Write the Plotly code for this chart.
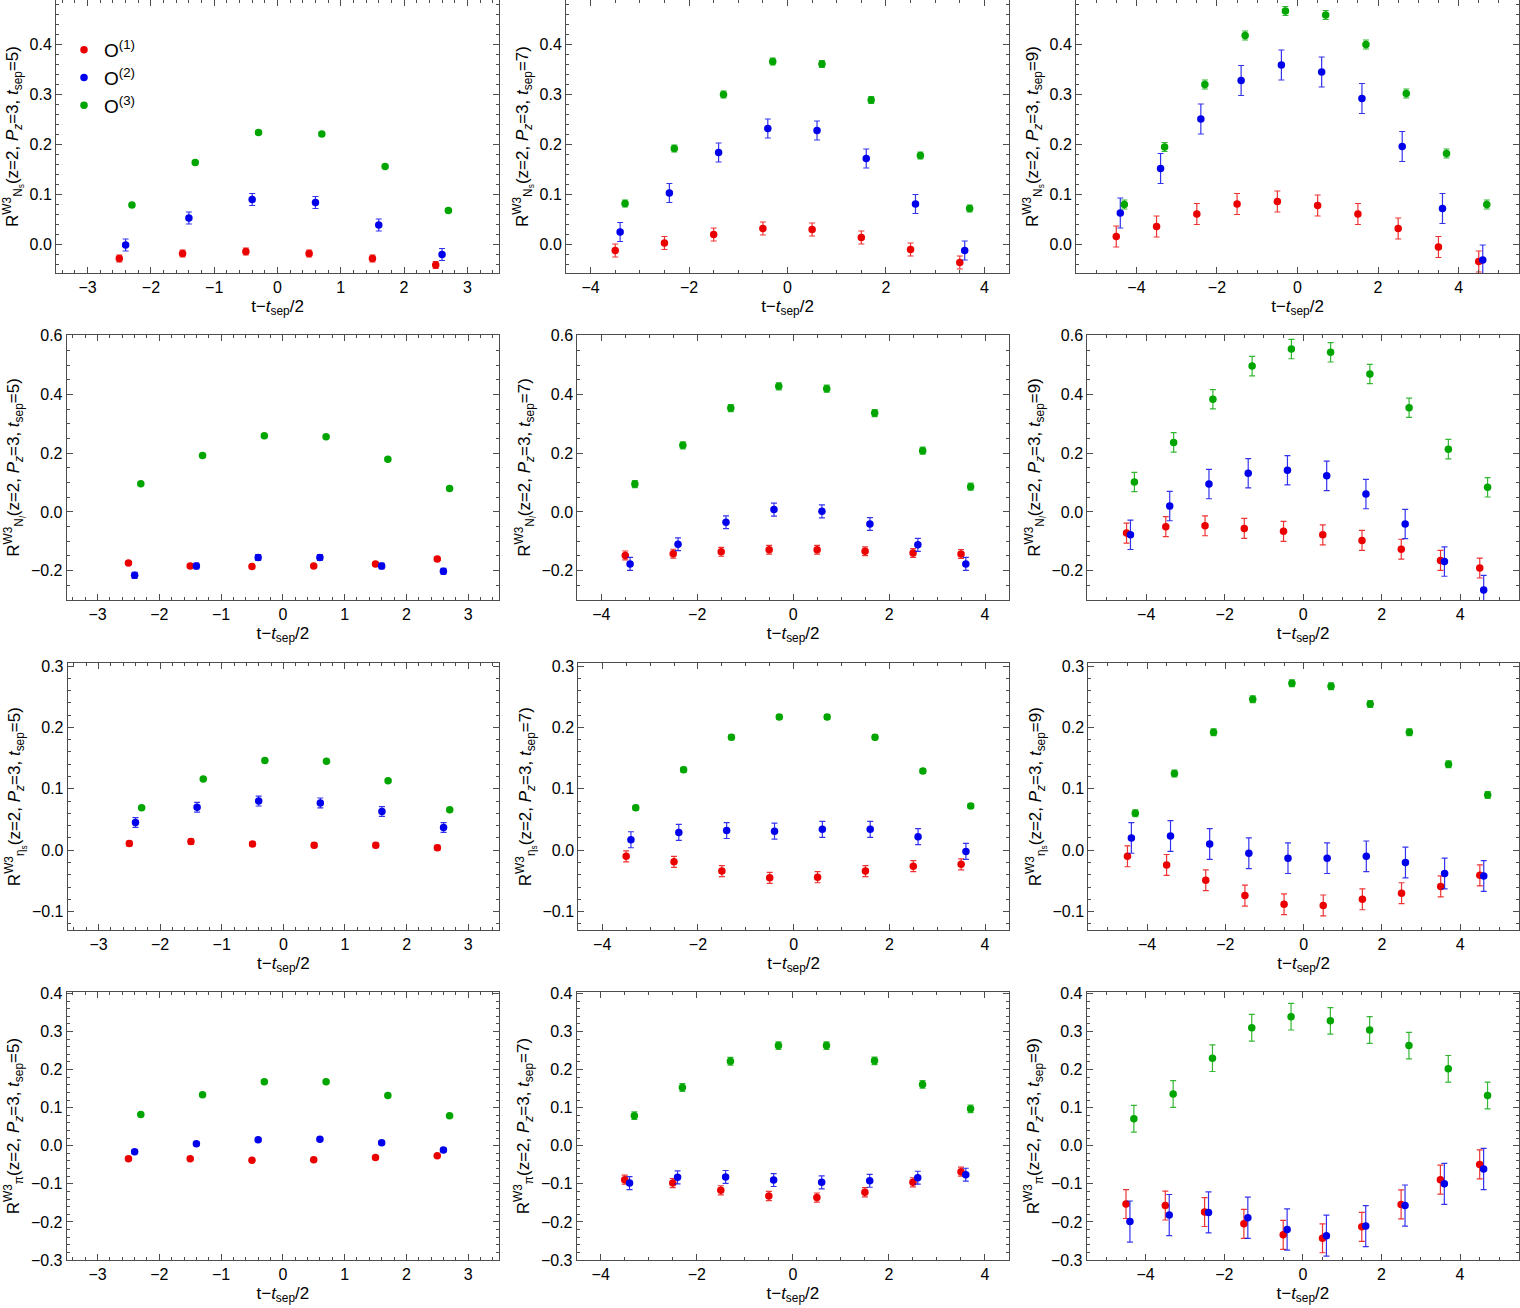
import plotly.graph_objects as go

W, H = 1520, 1308

# ---------------- data ----------------
TSEPS = [5, 7, 9]
T5 = [-2.5, -1.5, -0.5, 0.5, 1.5, 2.5]
T7 = [-3.5, -2.5, -1.5, -0.5, 0.5, 1.5, 2.5, 3.5]
T9 = [-4.5, -3.5, -2.5, -1.5, -0.5, 0.5, 1.5, 2.5, 3.5, 4.5]
TAUS = [T5, T7, T9]

OBS_SUB = ["N<sub>s</sub>", "N<sub><i>l</i></sub>", "η<sub>s</sub>", "π"]
SERIES = ["O<sup>(1)</sup>", "O<sup>(2)</sup>", "O<sup>(3)</sup>"]

# Row 1: N_s
ns_t5 = [[-0.028, -0.018, -0.014, -0.018, -0.028, -0.041],
         [-0.001, 0.053, 0.090, 0.084, 0.039, -0.020],
         [0.079, 0.164, 0.224, 0.221, 0.156, 0.068]]
ns_t5_err = [[0.007] * 6, [0.012] * 6, [0.004] * 6]
ns_t7 = [[-0.012, 0.003, 0.020, 0.032, 0.030, 0.014, -0.010, -0.036],
         [0.025, 0.103, 0.184, 0.232, 0.228, 0.172, 0.081, -0.012],
         [0.082, 0.192, 0.300, 0.366, 0.361, 0.289, 0.178, 0.072]]
ns_t7_err = [[0.013] * 8, [0.019] * 8, [0.007] * 8]
ns_t9 = [[0.016, 0.036, 0.061, 0.081, 0.086, 0.078, 0.061, 0.032, -0.005, -0.034],
         [0.063, 0.152, 0.251, 0.328, 0.359, 0.345, 0.292, 0.196, 0.072, -0.031],
         [0.080, 0.195, 0.320, 0.418, 0.467, 0.459, 0.400, 0.302, 0.182, 0.080]]
ns_t9_err = [[0.021] * 10, [0.030] * 10, [0.009] * 10]

# Row 2: N_l
nl_t5 = [[-0.174, -0.184, -0.186, -0.184, -0.177, -0.160],
         [-0.216, -0.184, -0.155, -0.155, -0.184, -0.202],
         [0.096, 0.192, 0.260, 0.256, 0.180, 0.080]]
nl_t5_err = [[0.005] * 6, [0.010] * 6, [0.005] * 6]
nl_t7 = [[-0.148, -0.142, -0.136, -0.129, -0.129, -0.134, -0.140, -0.143],
         [-0.177, -0.110, -0.035, 0.008, 0.002, -0.041, -0.112, -0.177],
         [0.095, 0.227, 0.354, 0.428, 0.420, 0.337, 0.209, 0.086]]
nl_t7_err = [[0.015] * 8, [0.022] * 8, [0.012] * 8]
nl_t9 = [[-0.072, -0.050, -0.047, -0.056, -0.066, -0.078, -0.097, -0.127, -0.165, -0.191],
         [-0.078, 0.020, 0.095, 0.132, 0.142, 0.123, 0.061, -0.041, -0.169, -0.266],
         [0.102, 0.237, 0.384, 0.497, 0.555, 0.544, 0.470, 0.355, 0.214, 0.084]]
nl_t9_err = [[0.034] * 10, [0.050] * 10, [0.033] * 10]

# Row 3: eta_s
es_t5 = [[0.011, 0.014, 0.010, 0.008, 0.008, 0.004],
         [0.045, 0.070, 0.080, 0.077, 0.063, 0.037],
         [0.069, 0.116, 0.146, 0.145, 0.113, 0.066]]
es_t5_err = [[0.004] * 6, [0.008] * 6, [0.002] * 6]
es_t7 = [[-0.010, -0.019, -0.034, -0.045, -0.044, -0.034, -0.026, -0.023],
         [0.017, 0.029, 0.032, 0.031, 0.034, 0.034, 0.022, -0.002],
         [0.069, 0.131, 0.184, 0.217, 0.217, 0.184, 0.129, 0.072]]
es_t7_err = [[0.009] * 8, [0.013] * 8, [0.004] * 8]
es_t9 = [[-0.010, -0.024, -0.049, -0.074, -0.088, -0.090, -0.080, -0.070, -0.059, -0.041],
         [0.020, 0.023, 0.010, -0.005, -0.013, -0.013, -0.010, -0.020, -0.038, -0.042],
         [0.060, 0.125, 0.192, 0.246, 0.272, 0.267, 0.238, 0.192, 0.140, 0.090]]
es_t9_err = [[0.017] * 10, [0.025] * 10, [0.0055] * 10]

# Row 4: pi
pi_t5 = [[-0.034, -0.034, -0.038, -0.037, -0.031, -0.026],
         [-0.016, 0.005, 0.016, 0.017, 0.008, -0.011],
         [0.082, 0.134, 0.168, 0.168, 0.132, 0.079]]
pi_t5_err = [[0.003] * 6, [0.005] * 6, [0.003] * 6]
pi_t7 = [[-0.089, -0.098, -0.117, -0.132, -0.136, -0.122, -0.096, -0.068],
         [-0.098, -0.083, -0.082, -0.090, -0.096, -0.092, -0.084, -0.076],
         [0.079, 0.153, 0.222, 0.263, 0.263, 0.223, 0.161, 0.097]]
pi_t7_err = [[0.012] * 8, [0.017] * 8, [0.010] * 8]
pi_t9 = [[-0.153, -0.157, -0.174, -0.205, -0.234, -0.243, -0.213, -0.154, -0.089, -0.049],
         [-0.199, -0.182, -0.175, -0.189, -0.220, -0.236, -0.211, -0.157, -0.100, -0.061],
         [0.071, 0.136, 0.230, 0.310, 0.339, 0.328, 0.304, 0.263, 0.202, 0.132]]
pi_t9_err = [[0.038] * 10, [0.054] * 10, [0.035] * 10]

PANELS = [[(ns_t5, ns_t5_err), (ns_t7, ns_t7_err), (ns_t9, ns_t9_err)],
          [(nl_t5, nl_t5_err), (nl_t7, nl_t7_err), (nl_t9, nl_t9_err)],
          [(es_t5, es_t5_err), (es_t7, es_t7_err), (es_t9, es_t9_err)],
          [(pi_t5, pi_t5_err), (pi_t7, pi_t7_err), (pi_t9, pi_t9_err)]]

# ---------------- style / layout ----------------
COLORS = ["rgb(235,0,0)", "rgb(0,0,235)", "rgb(0,165,0)"]
ERRCOLORS = ["rgba(235,0,0,0.8)", "rgba(0,0,235,0.8)", "rgba(0,165,0,0.8)"]
SHIFTS = [0.0, 0.1, 0.2]

X_RANGES = [[-3.5, 3.5], [-4.5, 4.5], [-5.5, 5.5]]
X_DTICK = [1, 2, 2]
X_MINOR = [0.2, 0.5, 0.5]
Y_RANGES = [[-0.057, 0.489], [-0.3, 0.603], [-0.13, 0.3044], [-0.3, 0.403]]
Y_DTICK = [0.1, 0.2, 0.1, 0.1]
Y_MINOR = [0.02, 0.05, 0.02, 0.02]

ROW_PX = [(0, 273), (335, 600), (663.3, 930), (992.3, 1260)]
COL_PX = [[(56, 499), (566, 1009), (1076, 1519)],
          [(66.7, 499), (577.3, 1009), (1087.3, 1519)],
          [(67.7, 499), (578.3, 1009), (1088.3, 1519)],
          [(66.7, 499), (576.7, 1009), (1086.7, 1519)]]

FONT = "Liberation Sans, Arial, sans-serif"
FRAME = "#4d4d4d"

fig = go.Figure()
layout = {}

k = 0
for r in range(4):
    for c in range(3):
        k += 1
        xa = "x" if k == 1 else f"x{k}"
        ya = "y" if k == 1 else f"y{k}"
        vals, errs = PANELS[r][c]
        taus = TAUS[c]
        for s in range(3):
            fig.add_trace(go.Scatter(
                x=[t + SHIFTS[s] for t in taus],
                y=vals[s],
                error_y=dict(type="data", array=errs[s], visible=True,
                             color=ERRCOLORS[s], thickness=1.2, width=3),
                mode="markers",
                marker=dict(color=COLORS[s], size=7.5),
                name=SERIES[s],
                showlegend=(k == 1),
                xaxis=xa, yaxis=ya,
                cliponaxis=True,
            ))
        x0, x1 = COL_PX[r][c]
        y0, y1 = ROW_PX[r]
        common = dict(
            showline=True, linecolor=FRAME, linewidth=1, mirror="allticks",
            ticks="inside", ticklen=6, tickcolor=FRAME, tickwidth=1,
            showgrid=False, zeroline=False, automargin=False,
            tickfont=dict(family=FONT, size=16, color="black"),
        )
        layout["xaxis" if k == 1 else f"xaxis{k}"] = dict(
            common,
            domain=[x0 / W, x1 / W],
            anchor=ya,
            range=X_RANGES[c],
            dtick=X_DTICK[c], tick0=0,
            minor=dict(ticks="inside", ticklen=3, dtick=X_MINOR[c], tick0=0,
                       tickcolor=FRAME, showgrid=False),
            title=dict(text="t−<i>t</i><sub>sep</sub>/2",
                       font=dict(family=FONT, size=17, color="black"), standoff=4),
        )
        layout["yaxis" if k == 1 else f"yaxis{k}"] = dict(
            common,
            domain=[1 - y1 / H, 1 - y0 / H],
            anchor=xa,
            range=Y_RANGES[r],
            dtick=Y_DTICK[r], tick0=0, tickformat=".1f",
            minor=dict(ticks="inside", ticklen=3, dtick=Y_MINOR[r], tick0=0,
                       tickcolor=FRAME, showgrid=False),
            title=dict(text=f"R<sup>W3</sup><sub>{OBS_SUB[r]}</sub>(z=2, <i>P</i><sub><i>z</i></sub>=3, <i>t</i><sub>sep</sub>={TSEPS[c]})",
                       font=dict(family=FONT, size=17, color="black"), standoff=6),
        )

fig.update_layout(
    width=W, height=H,
    template="none",
    margin=dict(l=0, r=0, t=0, b=0, autoexpand=False),
    paper_bgcolor="white", plot_bgcolor="white",
    showlegend=True,
    legend=dict(x=64 / W, y=1 - 31 / H, xanchor="left", yanchor="top",
                bgcolor="rgba(0,0,0,0)", font=dict(family=FONT, size=19, color="black"),
                itemsizing="trace", tracegroupgap=0),
    **layout,
)

fig.write_html("out.html")
